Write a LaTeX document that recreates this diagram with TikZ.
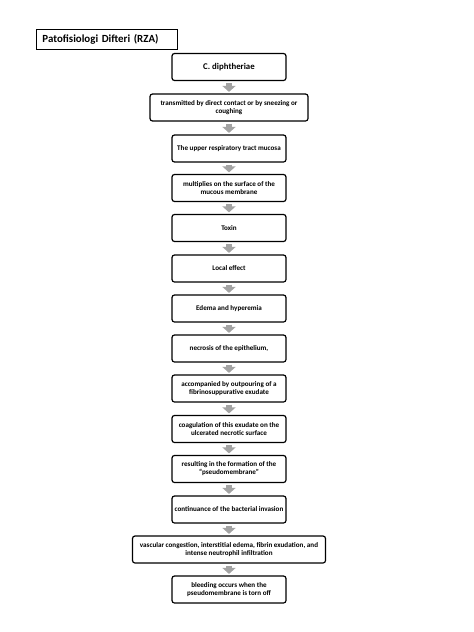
\documentclass[tikz,border=0pt]{standalone}
\usepackage{fontspec}
\setmainfont{Carlito}
\usepackage{tikz}
\usetikzlibrary{arrows.meta}
\definecolor{arrowGray}{HTML}{A3A3A3}

\tikzset{
    stepbox/.style={draw, line width=1.2pt, rounded corners=2.5pt, fill=white,
        minimum width=114pt, minimum height=27pt, align=center, inner sep=2pt,
        font=\fontsize{7.1}{8}\selectfont\bfseries},
    titlebox/.style={draw, line width=0.9pt, minimum height=20pt, text width=129pt,
        inner xsep=6pt, inner ysep=0pt, align=left,
        font=\fontsize{10.9}{12}\selectfont\bfseries},
    flowarrow/.style={arrowGray, line width=6pt,
        -{Triangle[width=13pt 0, length=6pt 0]}, shorten <=2pt, shorten >=1.5pt}
}

\begin{document}
\begin{tikzpicture}[x=1pt, y=-1pt]

    \useasboundingbox (0,0) rectangle (474,632);

    \node[titlebox, anchor=north west] (title) at (36,29) {Patofisiologi Difteri (RZA)};

    \node[stepbox] (b1) at (229,67) {\fontsize{8.8}{10}\selectfont C. diphtheriae};
    \node[stepbox, minimum width=158pt] (b2) at (229,107.5)
        {transmitted by direct contact or by sneezing or\\coughing};
    \node[stepbox] (b3) at (229,148.5) {The upper respiratory tract mucosa};
    \node[stepbox] (b4) at (229,188) {multiplies on the surface of the\\mucous membrane};
    \node[stepbox] (b5) at (229,228) {Toxin};
    \node[stepbox] (b6) at (229,268.5) {Local effect};
    \node[stepbox] (b7) at (229,308.5) {Edema and hyperemia};
    \node[stepbox] (b8) at (229,348.5) {necrosis of the epithelium,};
    \node[stepbox] (b9) at (229,388.5) {accompanied by outpouring of a\\fibrinosuppurative exudate};
    \node[stepbox] (b10) at (229,429) {coagulation of this exudate on the\\ulcerated necrotic surface};
    \node[stepbox] (b11) at (229,469) {resulting in the formation of the\\``pseudomembrane''};
    \node[stepbox] (b12) at (229,509.5) {continuance of the bacterial invasion};
    \node[stepbox, minimum width=193pt] (b13) at (229,549.5)
        {vascular congestion, interstitial edema, fibrin exudation, and\\intense neutrophil infiltration};
    \node[stepbox] (b14) at (229,589.5) {bleeding occurs when the\\pseudomembrane is torn off};

    % gray block arrows between the steps
    \foreach \i [evaluate=\i as \j using int(\i+1)] in {1,...,13}
        \draw[flowarrow] (b\i) -- (b\j);

\end{tikzpicture}
\end{document}
